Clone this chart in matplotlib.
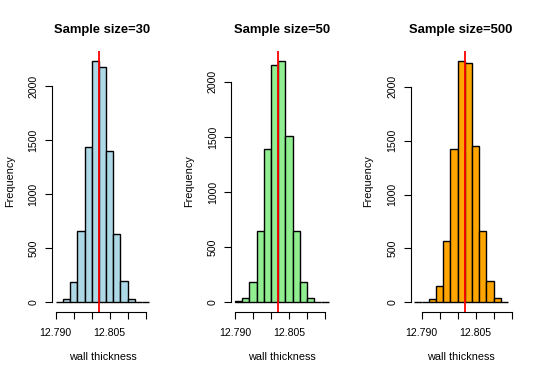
import numpy as np
import matplotlib
matplotlib.use("Agg")
import matplotlib.pyplot as plt

plt.rcParams['font.family'] = ['Liberation Sans', 'DejaVu Sans']

# bin edges (start, width, number of bins) and counts per sample size
titles = ["Sample size=30", "Sample size=50", "Sample size=500"]
colors = ["lightblue", "lightgreen", "orange"]
bin_starts = [12.790, 12.790, 12.788]
bin_width = 0.002
counts_30 = [0, 31, 185, 658, 1437, 2235, 2179, 1400, 631, 195, 31, 0, 0]
counts_50 = [9, 39, 182, 645, 1391, 2155, 2191, 1509, 645, 182, 39, 0, 0]
counts_500 = [0, 0, 28, 149, 570, 1426, 2242, 2223, 1451, 660, 195, 40, 0]
means = [12.802, 12.802, 12.802]
x_ticks = [12.790, 12.795, 12.800, 12.805, 12.810, 12.815]
x_ticklabels = ["12.790", "", "", "12.805", "", ""]
y_ticks = [0, 500, 1000, 1500, 2000]

W, H = 538, 377
fig = plt.figure(figsize=(W / 100, H / 100), dpi=100)

all_counts = [counts_30, counts_50, counts_500]
for i in range(3):
    counts = np.array(all_counts[i])
    edges = bin_starts[i] + bin_width * np.arange(len(counts) + 1)
    left_px = i * W / 3 + 52
    ax = fig.add_axes([left_px / W, 1 - 312 / H, 101 / W, 261 / H])

    ax.bar(edges[:-1], counts, width=bin_width, align='edge',
           color=colors[i], edgecolor='black', linewidth=1.0)
    ax.axvline(means[i], color='red', linewidth=1.3)

    # R style limits: 4% padding around the data range
    xr = edges[-1] - edges[0]
    ax.set_xlim(edges[0] - 0.04 * xr, edges[-1] + 0.04 * xr)
    ymax = counts.max()
    ax.set_ylim(-0.04 * ymax, 1.04 * ymax)

    for s in ['top', 'right']:
        ax.spines[s].set_visible(False)
    ax.spines['left'].set_bounds(0, 2000)
    ax.spines['bottom'].set_bounds(x_ticks[0], x_ticks[-1])
    for s in ['left', 'bottom']:
        ax.spines[s].set_linewidth(0.8)

    ax.set_xticks(x_ticks)
    ax.set_xticklabels(x_ticklabels)
    ax.set_yticks(y_ticks)
    ax.set_yticklabels([str(v) for v in y_ticks], rotation=90, va='center')
    ax.tick_params(length=4.7, width=0.8, labelsize=7.6, pad=5)
    ax.tick_params(axis='x', pad=7)

    ax.set_title(titles[i], fontsize=9.4, fontweight='bold', pad=13)
    ax.set_xlabel("wall thickness", fontsize=7.8, labelpad=10)
    ax.set_ylabel("Frequency", fontsize=7.8, labelpad=10)

fig.savefig("out.png", dpi=100)
